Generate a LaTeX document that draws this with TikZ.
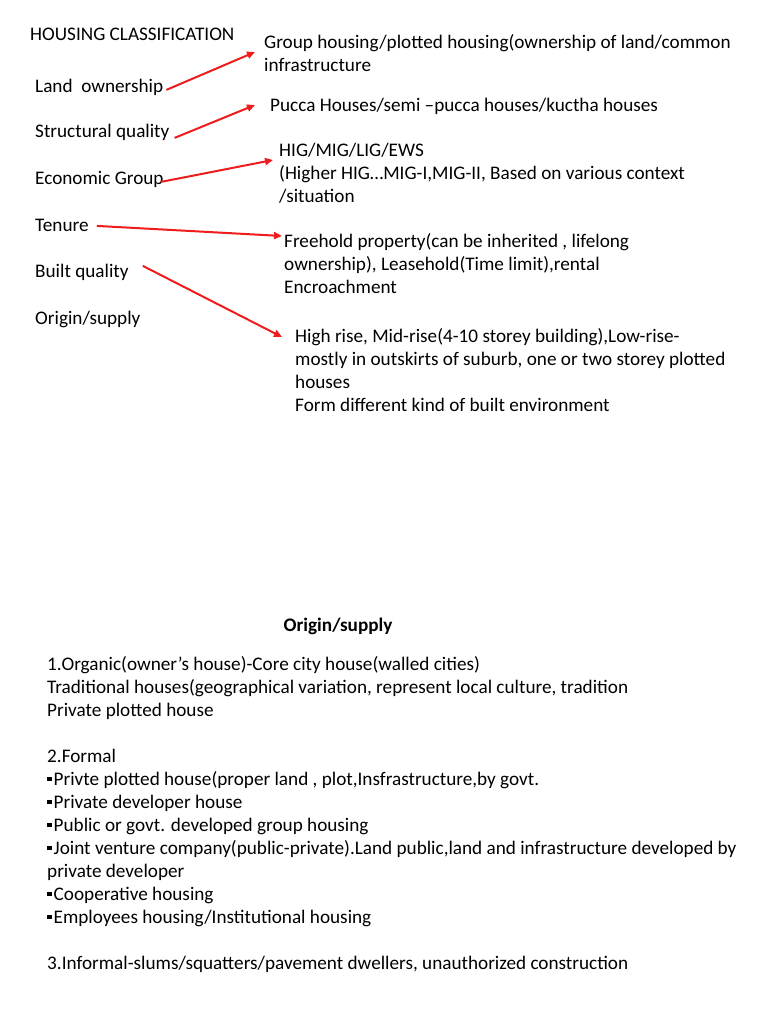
\documentclass[tikz,border=0pt]{standalone}
\usepackage{fontspec}
\setmainfont{Carlito}
\usepackage{xcolor}
\usepackage{tikz}
\usetikzlibrary{arrows.meta, positioning, calc}
\definecolor{arrred}{RGB}{238,28,28}
\tikzset{
  txt/.style={anchor=base west, inner sep=0pt, align=left,
    font=\fontsize{19.2}{23}\selectfont},
  headtxt/.style={anchor=base, inner sep=0pt,
    font=\fontsize{19.2}{23}\selectfont\bfseries},
  redarrow/.style={-{Triangle[length=8pt,width=7pt]}, line width=2pt, color=arrred}
}
\newcommand{\sqbul}{\rule[4pt]{4.5pt}{4.5pt}\hspace{2pt}}

\begin{document}
\begin{tikzpicture}[x=1pt, y=-1pt]
  \useasboundingbox (0,0) rectangle (768,1024);
  \fill[white] (0,0) rectangle (768,1024);

  % Classification criteria
  \node[txt] (title) at (30,41) {HOUSING CLASSIFICATION};
  \node[txt] (land) at (35,93) {Land\ \ ownership};
  \node[txt] (struct) at (35,138) {Structural quality};
  \node[txt] (econ) at (35,185) {Economic Group};
  \node[txt] (tenure) at (35,232) {Tenure};
  \node[txt] (built) at (35,277) {Built quality};
  \node[txt] (origin) at (35,324) {Origin/supply};

  % Categories (base = last line)
  \node[txt] (grp) at (264,72) {Group housing/plotted housing(ownership of land/common\\infrastructure};
  \node[txt] (pucca) at (270,112) {Pucca Houses/semi –pucca houses/kuctha houses};
  \node[txt] (hig) at (279,203) {HIG/MIG/LIG/EWS\\(Higher HIG…MIG-I,MIG-II, Based on various context\\/situation};
  \node[txt] (free) at (284,293) {Freehold property(can be inherited , lifelong\\ownership), Leasehold(Time limit),rental\\Encroachment};
  \node[txt] (high) at (295,411) {High rise, Mid-rise(4-10 storey building),Low-rise-\\mostly in outskirts of suburb, one or two storey plotted\\houses\\Form different kind of built environment};

  % Arrows
  \draw[redarrow] ([xshift=3pt,yshift=-2pt]land.east) -- ([xshift=-9pt]grp.west |- 0,52);
  \draw[redarrow] ([xshift=5pt,yshift=-5pt]struct.east) -- ([xshift=-15pt]pucca.west |- 0,105);
  \draw[redarrow] ([xshift=-3pt,yshift=-2pt]econ.east) -- ([xshift=-6pt]hig.west |- 0,160);
  \draw[redarrow] ([xshift=8pt]tenure.east) -- ([xshift=-2pt]free.west |- 0,236);
  \draw[redarrow] ([xshift=14pt,yshift=6pt]built.east) -- ([xshift=-13pt]high.west |- 0,337);

  % Origin/supply details
  \node[headtxt] (orighead) at (338,631) {Origin/supply};
  \node[txt] (list) at (47,969) {1.Organic(owner’s house)-Core city house(walled cities)\\
    Traditional houses(geographical variation, represent local culture, tradition\\
    Private plotted house\\[23pt]
    2.Formal\\
    \sqbul Privte plotted house(proper land , plot,Insfrastructure,by govt.\\
    \sqbul Private developer house\\
    \sqbul Public or govt. developed group housing\\
    \sqbul Joint venture company(public-private).Land public,land and infrastructure developed by\\
    private developer\\
    \sqbul Cooperative housing\\
    \sqbul Employees housing/Institutional housing\\[23pt]
    3.Informal-slums/squatters/pavement dwellers, unauthorized construction};
\end{tikzpicture}
\end{document}
